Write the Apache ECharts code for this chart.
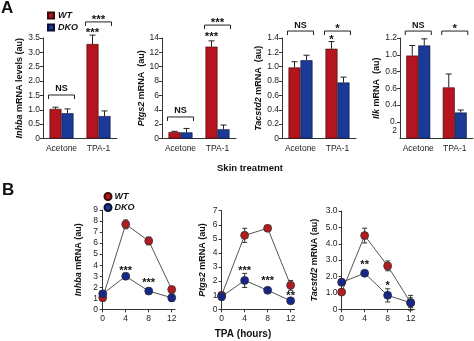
<!DOCTYPE html>
<html><head><meta charset="utf-8">
<script src="https://cdn.jsdelivr.net/npm/echarts@6/dist/echarts.min.js"></script>
<style>html,body{margin:0;padding:0;background:#fff}#c{width:474px;height:341px}</style>
</head><body><div id="c"></div>
<script>
// ---------- Data ----------
const cats = ['Acetone', 'TPA-1'];
const inhbaWT = [1.03, 3.29], inhbaWTErr = [0.06, 0.31];
const inhbaDKO = [0.88, 0.78], inhbaDKOErr = [0.15, 0.18];
const ptgs2WT = [0.9, 12.8], ptgs2WTErr = [0.1, 0.8];
const ptgs2DKO = [0.85, 1.28], ptgs2DKOErr = [0.55, 0.6];
const tacWT = [0.99, 1.25], tacWTErr = [0.08, 0.1];
const tacDKO = [1.09, 0.78], tacDKOErr = [0.07, 0.075];
const ilkWT = [0.99, 0.61], ilkWTErr = [0.12, 0.16];
const ilkDKO = [1.11, 0.31], ilkDKOErr = [0.08, 0.03];

// significance annotations for bar panels: [categoryIndex, value, text, kind]
const sigInhbaA = [[0, 1.515, 'NS', 'bracket'], [1, 4.06, '***', 'bracket'], [1, 3.74, '***', 'bar']];
const sigPtgs2A = [[0, 3.0, 'NS', 'bracket'], [1, 15.8, '***', 'bracket'], [1, 14.4, '***', 'bar']];
const sigTacA = [[0, 1.497, 'NS', 'bracket'], [1, 1.497, '*', 'bracket'], [1, 1.396, '*', 'bar']];
const sigIlkA = [[0, 1.283, 'NS', 'bracket'], [1, 1.283, '*', 'bracket']];

const hours = [0, 4, 8, 12];
const inhbaB_WT = [1.05, 7.7, 6.2, 1.8], inhbaB_WTErr = [0.3, 0.4, 0.35, 0.2];
const inhbaB_DKO = [1.4, 3.0, 1.65, 1.05], inhbaB_DKOErr = [0.2, 0.1, 0.2, 0.35];
const ptgs2B_WT = [1.0, 5.25, 5.75, 1.7], ptgs2B_WTErr = [0.15, 0.5, 0.2, 0.35];
const ptgs2B_DKO = [0.9, 2.05, 1.35, 0.6], ptgs2B_DKOErr = [0.25, 0.5, 0.2, 0.15];
const tacB_WT = [1.05, 4.5, 2.65, 0.4], tacB_WTErr = [0.15, 0.45, 0.3, 0.3];
const tacB_DKO = [1.65, 2.2, 0.85, 0.4], tacB_DKOErr = [0.2, 0.1, 0.4, 0.45];

// significance for time course: [hour, value, text]
const sigInhbaB = [[4, 3.7, '***'], [8, 2.6, '***']];
const sigPtgs2B = [[4, 2.84, '***'], [8, 2.13, '***'], [12, 1.06, '**']];
const sigTacB = [[4, 2.8, '**'], [8, 1.55, '*']];

// ---------- Styles ----------
const RED = '#B3141D', BLUE = '#1B3A97';
const RED_B = '#B01C22', BLUE_B = '#16278A';
const FONT = '"Liberation Sans", Arial, sans-serif';
const AX = '#333';

const chart = echarts.init(document.getElementById('c'), null, {renderer: 'canvas'});

const gridsA = [
  {left: 43, top: 38, width: 74, height: 100.5},
  {left: 162, top: 38, width: 74, height: 100.5},
  {left: 282, top: 38, width: 74, height: 100.5},
  {left: 400, top: 38, width: 73, height: 100.5}
];
const gridsB = [
  {left: 101, top: 210, width: 74, height: 99.3},
  {left: 220.5, top: 210.7, width: 74, height: 98.6},
  {left: 340.5, top: 211, width: 74, height: 98.3}
];

const nameStyle = {fontSize: 9, fontWeight: 'bold', color: '#111', fontFamily: FONT,
  rich: {i: {fontSize: 9, fontWeight: 'bold', fontStyle: 'italic', color: '#111', fontFamily: FONT}}};

function fmt1(v) { return v === 0 ? '0' : v.toFixed(1); }

const barPanels = [
  {name: '{i|Inhba} mRNA levels (au)', max: 3.5, interval: 0.5, gap: 13, wt: inhbaWT, wtE: inhbaWTErr, dko: inhbaDKO, dkoE: inhbaDKOErr, sig: sigInhbaA, f: fmt1},
  {name: '{i|Ptgs2} mRNA  (au)', max: 14, interval: 2, gap: 16, wt: ptgs2WT, wtE: ptgs2WTErr, dko: ptgs2DKO, dkoE: ptgs2DKOErr, sig: sigPtgs2A, f: v => String(v)},
  {name: '{i|Tacstd2} mRNA  (au)', max: 1.4, interval: 0.2, gap: 16, wt: tacWT, wtE: tacWTErr, dko: tacDKO, dkoE: tacDKOErr, sig: sigTacA, f: fmt1},
  {name: '{i|Ilk} mRNA  (au)', max: 1.2, interval: 0.2, gap: 16, wt: ilkWT, wtE: ilkWTErr, dko: ilkDKO, dkoE: ilkDKOErr, sig: sigIlkA,
    f: v => (Math.abs(v - 0.2) < 1e-6 ? '\n0.\n2' : fmt1(v))}
];
const linePanels = [
  {name: '{i|Inhba} mRNA (au)', min: -0.3, max: 12.57, ymax: 9, gap: 18, wt: inhbaB_WT, wtE: inhbaB_WTErr, dko: inhbaB_DKO, dkoE: inhbaB_DKOErr, sig: sigInhbaB, f: v => String(v)},
  {name: '{i|Ptgs2} mRNA (au)', min: -0.2, max: 12.67, ymax: 7, gap: 13.5, wt: ptgs2B_WT, wtE: ptgs2B_WTErr, dko: ptgs2B_DKO, dkoE: ptgs2B_DKOErr, sig: sigPtgs2B, f: v => String(v)},
  {name: '{i|Tacstd2} mRNA (au)', min: -0.2, max: 12.67, ymax: 6, gap: 21, wt: tacB_WT, wtE: tacB_WTErr, dko: tacB_DKO, dkoE: tacB_DKOErr, sig: sigTacB,
    f: v => (v === 0 ? '0' : (v === 6 ? '3.0' : v.toFixed(1)))}
];

const xAxes = [], yAxes = [], series = [];
const labelBase = {fontSize: 8.5, color: '#222', fontFamily: FONT};

barPanels.forEach((p, i) => {
  xAxes.push({type: 'category', gridIndex: i, data: cats,
    axisLine: {lineStyle: {color: AX, width: 1}},
    axisTick: {length: 3, lineStyle: {color: AX}},
    axisLabel: Object.assign({margin: 6, interval: 0, hideOverlap: false}, labelBase)});
  yAxes.push({type: 'value', gridIndex: i, min: 0, max: p.max, interval: p.interval,
    name: p.name, nameLocation: 'middle', nameGap: p.gap, nameTextStyle: nameStyle,
    axisLine: {show: true, lineStyle: {color: AX}},
    axisTick: {show: true, length: 3, lineStyle: {color: AX}},
    splitLine: {show: false},
    axisLabel: Object.assign({margin: 3, formatter: p.f, lineHeight: 9}, labelBase)});
  series.push({type: 'bar', name: 'WT', xAxisIndex: i, yAxisIndex: i, data: p.wt, barWidth: 12, barGap: '0%',
    itemStyle: {color: RED, borderColor: '#3a0a0a', borderWidth: 0.6}, z: 2});
  series.push({type: 'bar', name: 'DKO', xAxisIndex: i, yAxisIndex: i, data: p.dko, barWidth: 12, barGap: '0%',
    itemStyle: {color: BLUE, borderColor: '#0a0f30', borderWidth: 0.6}, z: 2});
  [[p.wt, p.wtE, -6], [p.dko, p.dkoE, 6]].forEach(([vals, errs, off]) => {
    series.push({type: 'custom', name: 'err', xAxisIndex: i, yAxisIndex: i, z: 1, silent: true,
      data: vals.map((v, k) => [k, v, errs[k]]),
      renderItem: (params, api) => {
        const p0 = api.coord([api.value(0), api.value(1)]);
        const p1 = api.coord([api.value(0), api.value(1) + api.value(2)]);
        const cx = p0[0] + off;
        return {type: 'group', children: [
          {type: 'line', shape: {x1: cx, y1: p0[1], x2: cx, y2: p1[1]}, style: {stroke: '#222', lineWidth: 1}},
          {type: 'line', shape: {x1: cx - 3, y1: p1[1], x2: cx + 3, y2: p1[1]}, style: {stroke: '#222', lineWidth: 1}}
        ]};
      }});
  });
  series.push({type: 'custom', name: 'sig', xAxisIndex: i, yAxisIndex: i, z: 5, silent: true, clip: false,
    data: p.sig.map(s => [s[0], s[1]]),
    renderItem: (params, api) => {
      const s = p.sig[params.dataIndex];
      const pt = api.coord([api.value(0), api.value(1)]);
      const isStar = s[2].indexOf('*') >= 0;
      const txtStyle = {text: s[2], fontFamily: FONT, fontWeight: 'bold', fontSize: isStar ? 11.5 : 9,
        fill: '#111', align: 'center', verticalAlign: 'middle'};
      if (s[3] === 'bracket') {
        const hw = 13;
        return {type: 'group', children: [
          {type: 'polyline', shape: {points: [[pt[0] - hw, pt[1] + 4], [pt[0] - hw, pt[1]], [pt[0] + hw, pt[1]], [pt[0] + hw, pt[1] + 4]]},
            style: {stroke: '#222', lineWidth: 1, fill: null}},
          {type: 'text', x: pt[0], y: pt[1] - (isStar ? 2 : 6), style: txtStyle}
        ]};
      }
      return {type: 'text', x: pt[0] - 6, y: pt[1] + 2, style: txtStyle};
    }});
});

linePanels.forEach((p, j) => {
  const i = 4 + j;
  xAxes.push({type: 'value', gridIndex: i, min: p.min, max: p.max,
    splitLine: {show: false},
    axisLine: {lineStyle: {color: AX}},
    axisTick: {show: true, customValues: hours, length: 3, lineStyle: {color: AX}},
    axisLabel: Object.assign({customValues: hours, margin: 5}, labelBase)});
  yAxes.push({type: 'value', gridIndex: i, min: 0, max: p.ymax, interval: 1,
    name: p.name, nameLocation: 'middle', nameGap: p.gap, nameTextStyle: nameStyle,
    axisLine: {show: true, lineStyle: {color: AX}},
    axisTick: {show: true, length: 3, lineStyle: {color: AX}},
    splitLine: {show: false},
    axisLabel: Object.assign({margin: 3, formatter: p.f}, labelBase)});
  [['WT', p.wt, p.wtE, RED_B], ['DKO', p.dko, p.dkoE, BLUE_B]].forEach(([nm, vals, errs, col]) => {
    series.push({type: 'custom', name: 'errB', xAxisIndex: i, yAxisIndex: i, z: 3, silent: true,
      data: vals.map((v, k) => [hours[k], v, errs[k]]),
      renderItem: (params, api) => {
        const x = api.value(0), v = api.value(1), e = api.value(2);
        const a = api.coord([x, v - e]), b = api.coord([x, v + e]);
        return {type: 'group', children: [
          {type: 'line', shape: {x1: a[0], y1: a[1], x2: b[0], y2: b[1]}, style: {stroke: '#333', lineWidth: 1}},
          {type: 'line', shape: {x1: a[0] - 2.5, y1: a[1], x2: a[0] + 2.5, y2: a[1]}, style: {stroke: '#333', lineWidth: 1}},
          {type: 'line', shape: {x1: b[0] - 2.5, y1: b[1], x2: b[0] + 2.5, y2: b[1]}, style: {stroke: '#333', lineWidth: 1}}
        ]};
      }});
    series.push({type: 'line', name: nm, xAxisIndex: i, yAxisIndex: i, z: 4,
      data: vals.map((v, k) => [hours[k], v]),
      symbol: 'circle', symbolSize: 8, showSymbol: true,
      lineStyle: {color: '#555', width: 1},
      itemStyle: {color: col, borderColor: '#2a2a2a', borderWidth: 0.7}});
  });
  series.push({type: 'custom', name: 'sigB', xAxisIndex: i, yAxisIndex: i, z: 6, silent: true, clip: false,
    data: p.sig.map(s => [s[0], s[1]]),
    renderItem: (params, api) => {
      const s = p.sig[params.dataIndex];
      const pt = api.coord([api.value(0), api.value(1)]);
      return {type: 'text', x: pt[0], y: pt[1] + 2,
        style: {text: s[2], fontFamily: FONT, fontWeight: 'bold', fontSize: 11, fill: '#111', align: 'center', verticalAlign: 'middle'}};
    }});
});

const option = {
  animation: false,
  textStyle: {fontFamily: FONT},
  title: [
    {text: 'A', left: 1, top: 0, padding: 0, textStyle: {fontSize: 17, fontWeight: 'bold', color: '#111', fontFamily: FONT}},
    {text: 'B', left: 2, top: 182, padding: 0, textStyle: {fontSize: 17, fontWeight: 'bold', color: '#111', fontFamily: FONT}},
    {text: 'Skin treatment', left: 250, textAlign: 'center', top: 163, padding: 0, textStyle: {fontSize: 9.5, fontWeight: 'bold', color: '#111', fontFamily: FONT}},
    {text: 'TPA (hours)', left: 243, textAlign: 'center', top: 329, padding: 0, textStyle: {fontSize: 10, fontWeight: 'bold', color: '#111', fontFamily: FONT}}
  ],
  legend: [
    {data: [{name: 'WT', icon: 'rect'}, {name: 'DKO', icon: 'rect'}], orient: 'vertical', left: 47, top: 11, padding: 0,
      itemWidth: 6, itemHeight: 6, itemGap: 3, selectedMode: false,
      textStyle: {fontSize: 9, fontWeight: 'bold', fontStyle: 'italic', color: '#111', padding: [0, 0, 0, -1]}},
    {data: [{name: 'WT', icon: 'circle'}, {name: 'DKO', icon: 'circle'}], orient: 'vertical', left: 103.5, top: 192, padding: 0,
      itemWidth: 7, itemHeight: 7, itemGap: 2, selectedMode: false,
      textStyle: {fontSize: 9, fontWeight: 'bold', fontStyle: 'italic', color: '#111', padding: [0, 0, 0, -2]}}
  ],
  grid: gridsA.concat(gridsB),
  xAxis: xAxes,
  yAxis: yAxes,
  series: series
};
chart.setOption(option);
</script></body></html>
